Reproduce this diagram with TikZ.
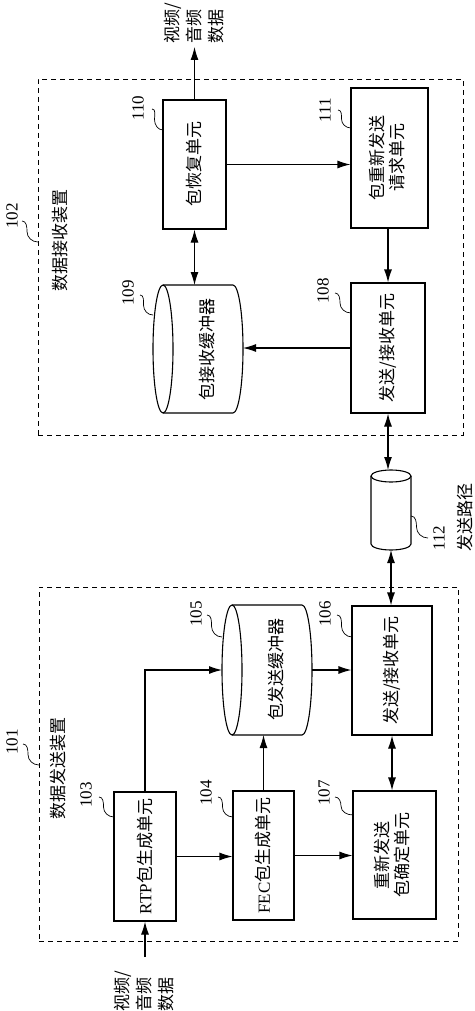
\documentclass[tikz,border=0pt]{standalone}
\usepackage{fontspec}
\setmainfont{Liberation Serif}
\newfontfamily\cjk{Noto Sans CJK SC}
\usepackage{graphicx}
\usetikzlibrary{arrows.meta,calc}
\newcommand{\rt}[1]{\rotatebox{90}{#1}}
\newcommand{\twol}[2]{\rotatebox{90}{\begin{tabular}{@{}c@{}}#1\\#2\end{tabular}}}
\newcommand{\threel}[3]{\rotatebox{90}{\begin{tabular}{@{}l@{}}#1\\#2\\#3\end{tabular}}}
\tikzset{
  boxn/.style={draw, line width=1.1pt, inner sep=0pt, font=\fontsize{17}{20}\selectfont\cjk},
  ghost/.style={inner sep=0pt, outer sep=0pt},
  dashbox/.style={draw, dash pattern=on 5pt off 4pt, line width=0.9pt, inner sep=0pt},
  num/.style={inner sep=0pt, font=\fontsize{17}{20}\selectfont},
  lbl/.style={inner sep=0pt, font=\fontsize{17}{22}\selectfont\cjk},
  arr/.style={line width=1.1pt, -{Latex[length=13pt,width=8pt]}},
  darr/.style={line width=1.1pt, {Latex[length=13pt,width=8pt]}-{Latex[length=13pt,width=8pt]}},
  cyl/.style={line width=1.1pt},
  squigl/.style={line width=0.7pt}
}
\newcommand{\squig}[2]{\draw[squigl] (#1) to[out=0,in=90] ($(#1)!0.5!(#2)+(-3,0)$) to[out=-90,in=180] (#2);}
\begin{document}
\begin{tikzpicture}[x=1pt,y=1pt]
\useasboundingbox (0,0) rectangle (474,-1011);

% outer dashed boxes
\node[dashbox, minimum width=425pt, minimum height=356pt] (r102) at (250.5,-257) {};
\node[dashbox, minimum width=419pt, minimum height=354pt] (r101) at (248.5,-764) {};

% receiver blocks
\node[boxn, minimum width=63pt, minimum height=129pt] (b110) at (194.5,-164.5) {\rt{包恢复单元}};
\node[boxn, minimum width=77pt, minimum height=140pt] (b111) at (389.5,-158) {\twol{包重新发送}{请求单元}};
\node[boxn, minimum width=74pt, minimum height=130pt] (b108) at (388,-348) {\rt{发送/接收单元}};

% cylinder 109
\draw[cyl] (163,-349) ellipse [x radius=10, y radius=64];
\draw[cyl] (163,-285) -- (233,-285) arc[start angle=90, end angle=-90, x radius=10, y radius=64] -- (163,-413);
\node[ghost, minimum width=90pt, minimum height=128pt] (c109) at (198,-349) {};
\node[lbl] (t109) at (207,-349) {\rt{包接收缓冲器}};

% cylinder 112
\draw[cyl] (391,-476) ellipse [x radius=20, y radius=6];
\draw[cyl] (371,-476) -- (371,-544) arc[start angle=180, end angle=360, x radius=20, y radius=6] -- (411,-476);
\node[ghost, minimum width=40pt, minimum height=80pt] (c112) at (391,-510) {};

% sender blocks
\draw[cyl] (232,-670) ellipse [x radius=10, y radius=65];
\draw[cyl] (232,-605) -- (302,-605) arc[start angle=90, end angle=-90, x radius=10, y radius=65] -- (232,-735);
\node[ghost, minimum width=90pt, minimum height=130pt] (c105) at (267,-670) {};
\node[lbl] (t105) at (276,-669) {\rt{包发送缓冲器}};

\node[boxn, minimum width=80pt, minimum height=129pt] (b106) at (392,-670.5) {\rt{发送/接收单元}};
\node[boxn, minimum width=62pt, minimum height=129pt] (b103) at (145,-856.5) {\rt{{\rmfamily RTP}包生成单元}};
\node[boxn, minimum width=61pt, minimum height=129pt] (b104) at (263.5,-855.5) {\rt{{\rmfamily FEC}包生成单元}};
\node[boxn, minimum width=83pt, minimum height=128pt] (b107) at (394.5,-855) {\twol{重新发送}{包确定单元}};

% group labels
\node[lbl] (g102) at (60,-240) {\rt{数据接收装置}};
\node[lbl] (g101) at (58,-768) {\rt{数据发送装置}};
\node[lbl] (path) at (465,-517) {\rt{发送路径}};
\node[lbl, anchor=south] (outtxt) at (196,-44) {\threel{视频/}{音频}{数据}};
\node[lbl, anchor=south] (intxt) at (146,-1012) {\threel{视频/}{音频}{数据}};

% number labels
\node[num] (l110) at (138,-108) {\rt{110}};
\node[num] (l111) at (325,-110) {\rt{111}};
\node[num] (l109) at (128,-293) {\rt{109}};
\node[num] (l108) at (323,-291) {\rt{108}};
\node[num] (l105) at (196,-614) {\rt{105}};
\node[num] (l106) at (325,-614) {\rt{106}};
\node[num] (l103) at (86,-795) {\rt{103}};
\node[num] (l104) at (206,-793) {\rt{104}};
\node[num] (l107) at (324,-793) {\rt{107}};
\node[num] (l112) at (439,-538) {\rt{112}};
\node[num] (l102) at (12,-216) {\rt{102}};
\node[num] (l101) at (12,-742) {\rt{101}};

% squiggle leaders
\coordinate (s110) at (152,-109); \coordinate (e110) at (163,-130);
\coordinate (s111) at (338,-110); \coordinate (e111) at (351,-128);
\coordinate (s109) at (140,-295); \coordinate (e109) at (153,-315);
\coordinate (s108) at (335,-293); \coordinate (e108) at (351,-313);
\coordinate (s105) at (207,-615); \coordinate (e105) at (222,-637);
\coordinate (s106) at (337,-615); \coordinate (e106) at (352,-637);
\coordinate (s103) at (99,-797);  \coordinate (e103) at (114,-817);
\coordinate (s104) at (218,-797); \coordinate (e104) at (233,-817);
\coordinate (s107) at (335,-797); \coordinate (e107) at (353,-815);
\coordinate (s112) at (411,-516); \coordinate (e112) at (428,-538);
\coordinate (s102) at (22,-221);  \coordinate (e102) at (38,-242);
\coordinate (s101) at (23,-744);  \coordinate (e101) at (39,-765);
\squig{s110}{e110}
\squig{s111}{e111}
\squig{s109}{e109}
\squig{s108}{e108}
\squig{s105}{e105}
\squig{s106}{e106}
\squig{s103}{e103}
\squig{s104}{e104}
\squig{s107}{e107}
\squig{s112}{e112}
\squig{s102}{e102}
\squig{s101}{e101}

% connectors
\coordinate (outp) at (194.5,-47);
\coordinate (inp) at (145,-957);
\draw[arr] (b110.north) -- (outp);
\draw[arr] (b110.east) -- (b110.east -| b111.west);
\draw[arr] (b111.south -| b108.north) -- (b108.north);
\draw[darr] (b110.south) -- (b110.south |- c109.north);
\draw[arr] (b108.west) -- (b108.west -| c109.east);
\draw[darr] (b108.south) -- (b108.south |- c112.north);
\draw[darr] (c112.south) -- (c112.south |- b106.north);
\draw[arr] (b103.north) |- (c105.west);
\draw[arr] (b104.north) -- (b104.north |- c105.south);
\draw[arr] (c105.east) -- (c105.east -| b106.west);
\draw[arr] (b103.east) -- (b103.east -| b104.west);
\draw[arr] (b104.east) -- (b104.east -| b107.west);
\draw[darr] (b107.north -| b106.south) -- (b106.south);
\draw[arr] (inp) -- (b103.south);
\end{tikzpicture}
\end{document}
